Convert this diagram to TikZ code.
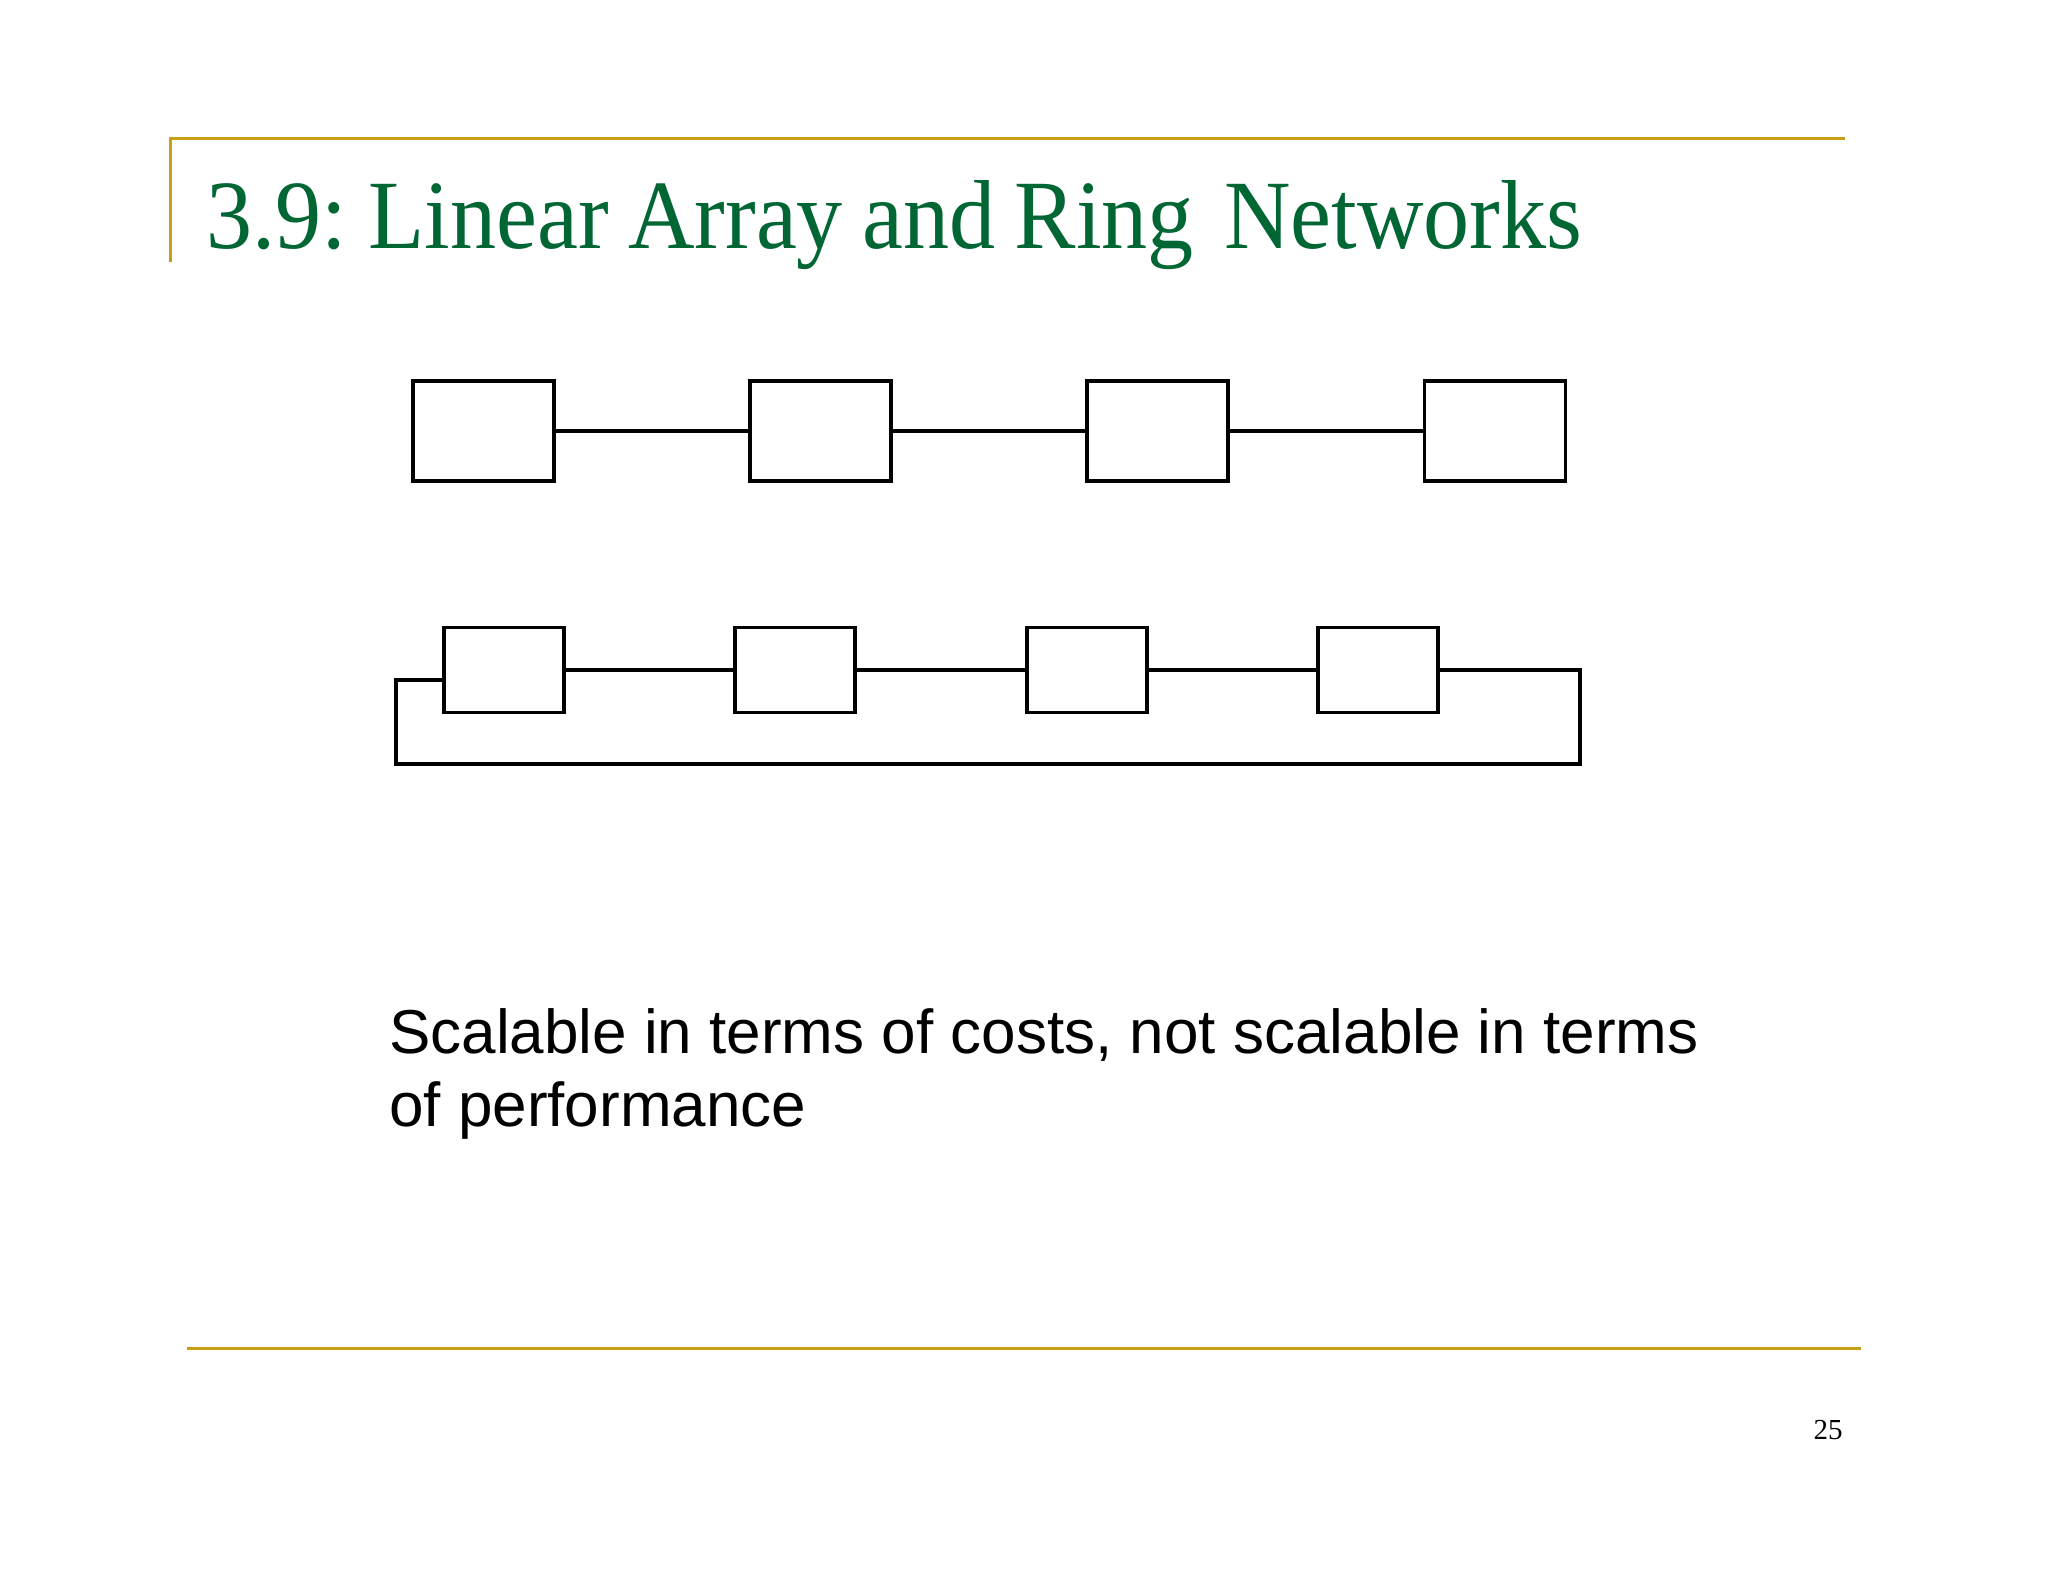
\documentclass[tikz,border=0pt]{standalone}
\usepackage{fontspec}
\setmainfont{Liberation Serif}
\newfontfamily\arialf{Liberation Sans}
\definecolor{gold}{HTML}{C9A013}
\definecolor{tgreen}{HTML}{006633}
\begin{document}
\begin{tikzpicture}[x=1pt,y=-1pt,
  bx/.style={draw,line width=3.5pt,minimum width=141pt,minimum height=100pt,inner sep=0},
  rb/.style={draw,line width=3.5pt,minimum width=120pt,minimum height=85pt,inner sep=0},
  wire/.style={line width=3.5pt}]
\useasboundingbox[fill=white] (0,0) rectangle (2048,1582);
\draw[gold,line width=3pt] (170,262) -- (170,138) -- (1845,138);
\draw[gold,line width=3pt] (187,1348) -- (1861,1348);
\node[anchor=base west,text=tgreen,font=\fontsize{98}{110}\selectfont,inner sep=0,xscale=0.94] (title) at (206,248) {3.9:\hspace{-0.1em} Linear\hspace{-0.04em} Array\hspace{-0.04em} and\hspace{-0.04em} Ring\hspace{0.08em} Networks};
\foreach \i/\x in {1/483.5,2/820.5,3/1157.5,4/1495}
  \node[bx] (a\i) at (\x,431) {};
\draw[wire] (a1) -- (a2); \draw[wire] (a2) -- (a3); \draw[wire] (a3) -- (a4);
\foreach \i/\x in {1/504,2/795,3/1087,4/1378}
  \node[rb] (r\i) at (\x,670) {};
\draw[wire] (r1) -- (r2); \draw[wire] (r2) -- (r3); \draw[wire] (r3) -- (r4);
\coordinate (c1) at (1580,670);
\coordinate (c2) at (1580,764);
\coordinate (c3) at (396,764);
\coordinate (c4) at (396,680);
\draw[wire,line join=miter] (r4.east |- c1) -- (c1) -- (c2) -- (c3) -- (c4) -- (r1.west |- c4);
\node[anchor=base west,align=left,font=\arialf\fontsize{62}{73}\selectfont,inner sep=0] (body) at (389,1126) {Scalable in terms of costs, not scalable in terms\\of performance};
\node[anchor=base,font=\fontsize{29}{34}\selectfont,inner sep=0] (pg) at (1828,1439) {25};
\end{tikzpicture}
\end{document}
